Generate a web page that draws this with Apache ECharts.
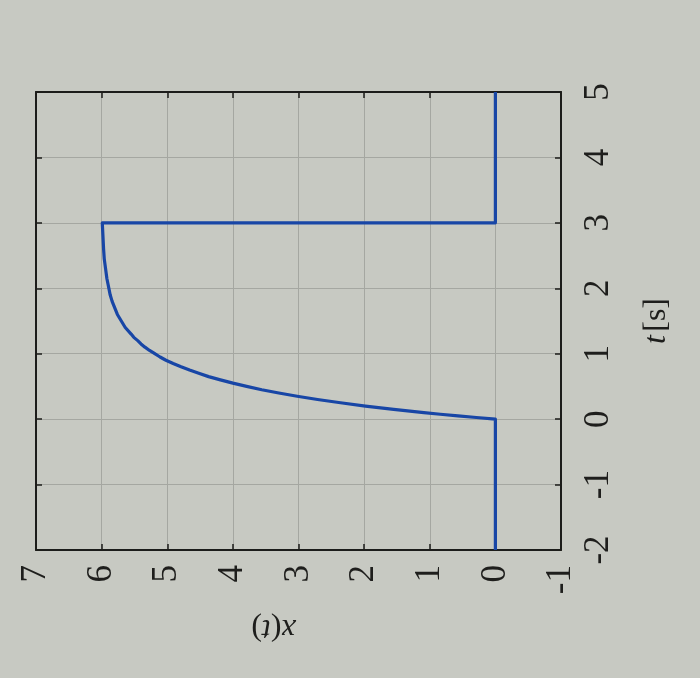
<!DOCTYPE html>
<html>
<head>
<meta charset="utf-8">
<script src="https://cdn.jsdelivr.net/npm/echarts@6/dist/echarts.min.js"></script>
<style>
html,body{margin:0;padding:0;background:#c7c9c2;}
#chart{width:700px;height:678px;}
</style>
</head>
<body>
<div id="chart"></div>
<script>
// time samples t [s] and signal values x(t)
const tValues = [-2, 0, 0, 0.025, 0.05, 0.075, 0.1, 0.15, 0.2, 0.25, 0.3, 0.35, 0.4, 0.45, 0.5, 0.55, 0.6, 0.65, 0.7, 0.75, 0.8, 0.85, 0.9, 0.95, 1.0, 1.05, 1.1, 1.15, 1.2, 1.25, 1.3, 1.4, 1.5, 1.6, 1.7, 1.8, 1.9, 2.0, 2.15, 2.3, 2.45, 2.6, 2.8, 3.0, 3.0, 5];
const xValues = [0, 0, 0, 0.29, 0.57, 0.84, 1.09, 1.55, 1.98, 2.36, 2.71, 3.02, 3.30, 3.56, 3.79, 4.00, 4.19, 4.37, 4.52, 4.66, 4.79, 4.91, 5.02, 5.11, 5.19, 5.27, 5.34, 5.40, 5.45, 5.51, 5.55, 5.64, 5.70, 5.76, 5.80, 5.84, 5.87, 5.89, 5.92, 5.94, 5.96, 5.97, 5.98, 5.99, 0, 0];
const xTicks = [-1, 0, 1, 2, 3, 4, 5, 6, 7];
const tTicks = [-2, -1, 0, 1, 2, 3, 4, 5];

const seriesData = tValues.map((t, i) => [xValues[i], t]);

const frameColor = '#1c1c1a';
const gridColor = '#a5a7a1';
const labelFont = {fontFamily: 'Liberation Serif', fontSize: 35, color: '#1e1e1c'};

const chart = echarts.init(document.getElementById('chart'), null, {renderer: 'canvas'});
chart.setOption({
  backgroundColor: '#c7c9c2',
  animation: false,
  grid: {left: 36, right: 139, top: 92, bottom: 128, containLabel: false},
  xAxis: [{
    type: 'value', position: 'bottom', inverse: true,
    min: xTicks[0], max: xTicks[xTicks.length - 1], interval: 1,
    axisLine: {show: true, onZero: false, lineStyle: {color: frameColor, width: 2}},
    axisTick: {show: true, inside: true, length: 6, lineStyle: {color: frameColor, width: 1.5}},
    axisLabel: Object.assign({rotate: 90, margin: 15}, labelFont),
    splitLine: {show: true, lineStyle: {color: gridColor, width: 1}},
    name: '{i|x}{n|(}{i|t}{n|)}',
    nameLocation: 'middle', nameRotate: 180, nameGap: 62,
    nameTextStyle: {
      padding: [0, 0, 0, 50],
      rich: {
        i: {fontFamily: 'Liberation Serif', fontStyle: 'italic', fontSize: 32, color: '#1e1e1c'},
        n: {fontFamily: 'Liberation Serif', fontSize: 32, color: '#1e1e1c'}
      }
    }
  }, {
    type: 'value', position: 'top', inverse: true,
    min: xTicks[0], max: xTicks[xTicks.length - 1], interval: 1,
    axisLine: {show: true, onZero: false, lineStyle: {color: frameColor, width: 2}},
    axisTick: {show: true, inside: true, length: 6, lineStyle: {color: frameColor, width: 1.5}},
    axisLabel: {show: false}, splitLine: {show: false}
  }],
  yAxis: [{
    type: 'value', position: 'right',
    min: tTicks[0], max: tTicks[tTicks.length - 1], interval: 1,
    axisLine: {show: true, onZero: false, lineStyle: {color: frameColor, width: 2}},
    axisTick: {show: true, inside: true, length: 6, lineStyle: {color: frameColor, width: 1.5}},
    axisLabel: Object.assign({rotate: 90, margin: 20}, labelFont),
    splitLine: {show: true, lineStyle: {color: gridColor, width: 1}},
    name: '{i|t} {n|[s]}',
    nameLocation: 'middle', nameRotate: 90, nameGap: 80,
    nameTextStyle: {
      rich: {
        i: {fontFamily: 'Liberation Serif', fontStyle: 'italic', fontSize: 32, color: '#1e1e1c'},
        n: {fontFamily: 'Liberation Serif', fontSize: 32, color: '#1e1e1c'}
      }
    }
  }, {
    type: 'value', position: 'left',
    min: tTicks[0], max: tTicks[tTicks.length - 1], interval: 1,
    axisLine: {show: true, onZero: false, lineStyle: {color: frameColor, width: 2}},
    axisTick: {show: true, inside: true, length: 6, lineStyle: {color: frameColor, width: 1.5}},
    axisLabel: {show: false}, splitLine: {show: false}
  }],
  series: [{
    type: 'line',
    xAxisIndex: 0, yAxisIndex: 0,
    data: seriesData,
    showSymbol: false, smooth: false,
    lineStyle: {color: '#1846a6', width: 3.2, join: 'round'},
    z: 5
  }]
});
</script>
</body>
</html>
